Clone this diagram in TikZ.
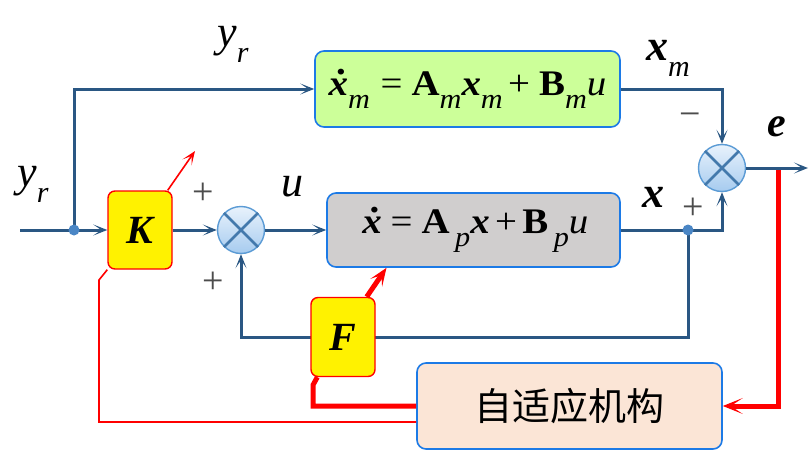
\documentclass[tikz,border=0pt]{standalone}
\usepackage{fontspec}
\setmainfont{Liberation Serif}
\newfontfamily\eqfont{Liberation Serif}[FakeStretch=1.08]
\newfontfamily\cjk{Noto Sans CJK SC}
\usetikzlibrary{arrows.meta}

\definecolor{sigblue}{HTML}{2A5783}
\definecolor{boxblue}{HTML}{1C7AE6}
\definecolor{modelgreen}{HTML}{CCFF99}
\definecolor{plantgray}{HTML}{D0CECE}
\definecolor{adaptpeach}{HTML}{FBE5D6}
\definecolor{sumedge}{HTML}{5B9BD5}
\definecolor{sumtop}{HTML}{E8F2FC}
\definecolor{sumbot}{HTML}{A6CBEF}
\definecolor{dotblue}{HTML}{4A86C5}

\newcommand\bv[1]{\textbf{\textit{#1}}}
\newcommand\lowsub[2][28]{\raisebox{-0.36em}{\fontsize{#1}{#1}\selectfont\itshape #2}}
\newcommand\vdot[1]{\leavevmode\setbox0\hbox{#1}\hbox to\wd0{\hss\hskip0.14em\raisebox{0.58em}{\bfseries .}\hss}\hskip-\wd0\box0}

\begin{document}
\begin{tikzpicture}[x=1pt,y=-1pt,
    sig/.style={draw=sigblue,line width=3pt,-{Stealth[length=14pt,width=11pt,inset=8pt]}},
    blk/.style={draw=boxblue,line width=1.6pt,rounded corners=9pt,inner sep=0pt,
      font=\eqfont\fontsize{36}{36}\selectfont},
    gain/.style={draw=red,fill=yellow,line width=1.4pt,rounded corners=7pt,inner sep=0pt,
      minimum width=64pt,minimum height=78pt,font=\fontsize{40}{40}\selectfont\bfseries\itshape},
    sumc/.style={circle,draw=sumedge,line width=1.4pt,top color=sumtop,bottom color=sumbot,
      minimum size=47pt,inner sep=0pt},
    adp/.style={draw=red,line width=1.6pt},
    adpthick/.style={draw=red,line width=5pt},
    lbl/.style={font=\fontsize{44}{44}\selectfont},
    sgn/.style={font=\fontsize{38}{38}\selectfont,text=black!70}]
    \useasboundingbox (0,0) rectangle (811,452);

    % Blocks %
    \node[blk,fill=modelgreen,minimum width=305pt,minimum height=76pt] (model) at (467.5,89)
      {\vdot{\bv{x}}\lowsub{m}\hspace{0.3em}=\hspace{0.25em}\textbf{A}\lowsub{m}\bv{x}\lowsub{m}\hspace{0.15em}+\hspace{0.25em}\textbf{B}\lowsub{m}\textit{u}};
    \node[blk,fill=plantgray,minimum width=293pt,minimum height=74pt] (plant) at (473.5,230)
      {\hspace{0.1em}\vdot{\bv{x}}\hspace{0.25em}=\hspace{0.25em}\textbf{A}\hspace{0.15em}\lowsub{p}\bv{x}\hspace{0.15em}+\hspace{0.15em}\textbf{B}\hspace{0.15em}\lowsub{p}\textit{u}};
    \node[blk,fill=adaptpeach,minimum width=305pt,minimum height=86pt,
      font=\cjk\fontsize{38}{38}\selectfont] (adapt) at (569.5,406) {自适应机构};
    \node[gain] (K) at (140,230) {K};
    \node[sumc] (s1) at (241,230) {};
    \node[sumc] (s2) at (722,168) {};
    \foreach \s in {s1,s2}
      \draw[sumedge!50!sigblue,line width=2.8pt] (\s.north east) -- (\s.south west)
        (\s.north west) -- (\s.south east);

    \coordinate (in) at (20,230);
    \coordinate (dot) at (74,230);
    \coordinate (xdot) at (688,230);
    \coordinate (fbr) at (688,337);
    \coordinate (etap) at (778,168);
    \coordinate (eout) at (808,168);
    \coordinate (kbend) at (99,280);
    \coordinate (fbend) at (313,385);
    \coordinate (ktip) at (195,151);

    % Adaptation paths %
    \draw[adpthick,-{Stealth[length=20pt,width=16pt,inset=12pt]}] (etap) |- (adapt.east);
    \draw[adp] ([yshift=-16pt]adapt.west) -| (kbend) -- (K.south west);
    \draw[adp,-{Stealth[length=14pt,width=11pt,inset=8pt]}] ([xshift=-5pt]K.north east) -- (ktip);

    % Signal paths %
    \draw[sig] (in) -- (K.west);
    \draw[sig] (dot) |- (model.west);
    \draw[sig] (K.east) -- (s1.west);
    \draw[sig] (s1.east) -- (plant.west);
    \draw[sig] (model.east) -| (s2.north);
    \draw[sig] (plant.east) -| (s2.south);
    \draw[sig] (s2.east) -- (eout);
    \draw[sig] (xdot) -- (fbr) -| (s1.south);
    \fill[dotblue] (dot) circle (5.5pt) (xdot) circle (5.5pt);

    \node[gain,minimum height=79pt] (F) at (343,337) {F};
    \draw[adpthick] (adapt.west) -| (fbend) -- ([xshift=7pt]F.south west);
    \draw[adpthick,-{Stealth[length=18pt,width=14pt,inset=9pt]}] ([xshift=-9pt]F.north east) -- ([xshift=-87pt]plant.south);

    % Labels %
    \node[lbl] (yrtop) at (233,44) {\textit{y}\lowsub[30]{r}};
    \node[lbl] (yrleft) at (33,184) {\textit{y}\lowsub[30]{r}};
    \node[lbl] (ulbl) at (292,187) {\textit{u}};
    \node[lbl] (xmlbl) at (668,58) {\bv{x}\lowsub[30]{m}};
    \node[lbl] (xlbl) at (653,197) {\bv{x}};
    \node[lbl,font=\fontsize{42}{42}\selectfont] (elbl) at (777,127) {\bv{e}};
    \node[sgn] (p1) at (203,194) {+};
    \node[sgn] (p2) at (213,283) {+};
    \node[sgn] (p3) at (693,209) {+};
    \node[sgn] (m1) at (690,120) {\char"2212};
\end{tikzpicture}
\end{document}
